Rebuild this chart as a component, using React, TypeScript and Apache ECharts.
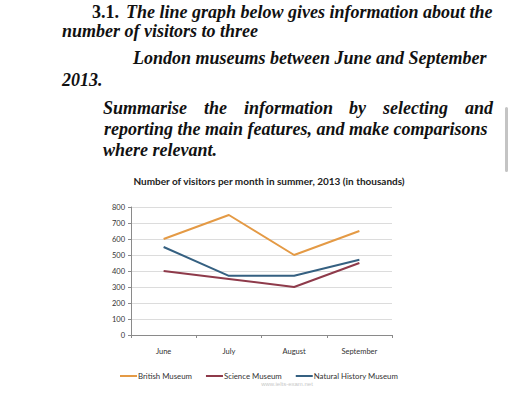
import React, { useEffect, useRef } from "react";
import * as echarts from "echarts";

const months = ["June", "July", "August", "September"];
const britishMuseum = [600, 750, 500, 650];
const scienceMuseum = [400, 350, 300, 450];
const naturalHistoryMuseum = [550, 370, 370, 470];
const seriesNames = ["British Museum", "Science Museum", "Natural History Museum"];
const seriesColors = ["#E49A45", "#8E3A4A", "#356081"];
const yTicks = { min: 0, max: 800, interval: 100 };

const chartTitle = "Number of visitors per month in summer, 2013 (in thousands)";
const watermark = "www.ielts-exam.net";

const italicFont = "italic bold 18px 'Liberation Serif'";
const uprightFont = "normal bold 18px 'Liberation Serif'";

function textEl(text: string, x: number, y: number, extra: any = {}) {
  return {
    type: "text",
    x,
    y,
    style: {
      text,
      font: italicFont,
      fill: "#111",
      align: "left",
      textAlign: "left",
      verticalAlign: "middle",
      textVerticalAlign: "middle",
      ...extra,
    },
  };
}

export default function App() {
  const ref = useRef<HTMLDivElement>(null);
  useEffect(() => {
    document.body.style.margin = "0";
    const chart = echarts.init(ref.current!, null, { renderer: "svg" });
    const justifiedWords = [
      ["Summarise", 103],
      ["the", 204],
      ["information", 244],
      ["by", 349],
      ["selecting", 383],
      ["and", 465],
    ] as [string, number][];
    const graphics: any[] = [
      textEl("3.1.", 92, 12, { font: uprightFont }),
      textEl("The line graph below gives information about the", 126, 12),
      textEl("number of visitors to three", 62, 31),
      textEl("London museums between June and September", 133, 58),
      textEl("2013.", 62, 80),
      ...justifiedWords.map(([w, x]) => textEl(w, x, 108)),
      textEl("reporting the main features, and make comparisons", 104, 129),
      textEl("where relevant.", 103, 150),
      {
        type: "rect",
        shape: { x: 505, y: 107, width: 3, height: 65, r: 1.5 },
        style: { fill: "#c4c4c4" },
      },
      {
        type: "text",
        x: 287,
        y: 384,
        style: {
          text: watermark,
          font: "normal 6px 'Liberation Sans'",
          fill: "#c8c8c8",
          align: "center",
          textAlign: "center",
          verticalAlign: "middle",
          textVerticalAlign: "middle",
        },
      },
    ];
    const data = [britishMuseum, scienceMuseum, naturalHistoryMuseum];
    chart.setOption({
      animation: false,
      title: {
        text: chartTitle,
        left: 264,
        textAlign: "center",
        top: 171,
        textStyle: {
          fontFamily: "Lato",
          fontSize: 10,
          fontWeight: "bold",
          color: "#222",
        },
      },
      grid: { left: 131, right: 120, top: 207, bottom: 64 },
      xAxis: {
        type: "category",
        data: months,
        boundaryGap: true,
        axisLine: { lineStyle: { color: "#8a8a8a", width: 1 } },
        axisTick: { show: true, length: 3, lineStyle: { color: "#8a8a8a" } },
        axisLabel: {
          margin: 12,
          fontFamily: "Lato",
          fontSize: 7.5,
          color: "#333",
        },
      },
      yAxis: {
        type: "value",
        min: yTicks.min,
        max: yTicks.max,
        interval: yTicks.interval,
        axisLine: { show: true, lineStyle: { color: "#8a8a8a", width: 1 } },
        axisTick: { show: true, length: 3, lineStyle: { color: "#8a8a8a" } },
        axisLabel: {
          margin: 6,
          fontFamily: "Lato",
          fontSize: 7.5,
          color: "#333",
        },
        splitLine: { lineStyle: { color: "#dcdcdc", width: 1 } },
      },
      legend: {
        left: 115,
        top: 367,
        itemWidth: 17,
        itemHeight: 2,
        itemGap: 14,
        icon: "rect",
        data: seriesNames,
        textStyle: {
          fontFamily: "Lato",
          fontSize: 7.8,
          color: "#333",
          padding: [0, 0, 0, -4],
        },
      },
      series: seriesNames.map((name, i) => ({
        name,
        type: "line",
        data: data[i],
        symbol: "none",
        lineStyle: { width: 2, color: seriesColors[i] },
        itemStyle: { color: seriesColors[i] },
      })),
      graphic: graphics,
    });
    return () => chart.dispose();
  }, []);
  return <div ref={ref} style={{ width: 512, height: 399 }} />;
}
